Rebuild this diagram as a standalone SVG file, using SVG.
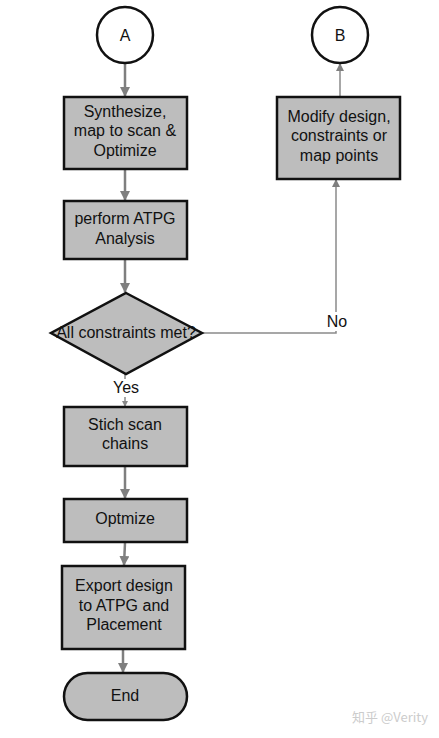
<svg xmlns="http://www.w3.org/2000/svg" width="439" height="738" viewBox="0 0 439 738">
<defs>
<style>
.box{fill:#bdbdbd;stroke:#111;stroke-width:2.5}
.circ{fill:#fff;stroke:#111;stroke-width:2.5}
.t{font-family:"Liberation Sans",Arial,sans-serif;font-size:16px;fill:#111;text-anchor:middle}
.c{stroke:#7f7f7f;stroke-width:2.5;fill:none}
.thin{stroke:#8a8a8a;stroke-width:1.5;fill:none}
</style>
<marker id="ah" markerWidth="8" markerHeight="8" refX="7" refY="4" orient="auto" markerUnits="userSpaceOnUse" viewBox="0 0 8 8">
<path d="M0,0 L8,4 L0,8 z" fill="#7f7f7f"/>
</marker>
<marker id="ahs" markerWidth="6" markerHeight="6" refX="5" refY="3" orient="auto" markerUnits="userSpaceOnUse" viewBox="0 0 6 6">
<path d="M0,0 L6,3 L0,6 z" fill="#8a8a8a"/>
</marker>
<marker id="ah2" markerWidth="10" markerHeight="10" refX="9" refY="5" orient="auto" markerUnits="userSpaceOnUse" viewBox="0 0 10 10">
<path d="M0,0 L10,5 L0,10 z" fill="#7f7f7f"/>
</marker>
</defs>
<rect width="439" height="738" fill="#fff"/>
<g id="connectors">
<line class="c" x1="125" y1="63" x2="125" y2="96" marker-end="url(#ah2)"/>
<line class="c" x1="125" y1="170" x2="125" y2="200" marker-end="url(#ah2)"/>
<line class="c" x1="125" y1="260" x2="125" y2="292" marker-end="url(#ah2)"/>
<polyline class="thin" points="202,333 336,333 336,180" marker-end="url(#ah)"/>
<line class="thin" x1="340" y1="97" x2="340" y2="64" marker-end="url(#ah)"/>
<line class="thin" x1="125" y1="374" x2="125" y2="406" marker-end="url(#ahs)"/>
<line class="c" x1="125" y1="467" x2="125" y2="498" marker-end="url(#ah2)"/>
<line class="c" x1="125" y1="543" x2="124" y2="565" marker-end="url(#ah2)"/>
<line class="c" x1="123" y1="650" x2="123" y2="672" marker-end="url(#ah2)"/>
<rect x="323" y="312" width="28" height="19" fill="#fff"/>
<text class="t" x="337" y="327">No</text>
<rect x="109" y="379" width="34" height="18" fill="#fff"/>
<text class="t" x="126" y="393">Yes</text>
</g>
<g id="nodeA">
<circle class="circ" cx="125" cy="35" r="28"/>
<text class="t" x="125" y="41">A</text>
</g>
<g id="nodeB">
<circle class="circ" cx="340" cy="35" r="28"/>
<text class="t" x="340" y="41">B</text>
</g>
<g id="synth">
<rect class="box" x="64" y="97" width="123" height="72"/>
<text class="t" x="125" y="117">Synthesize,</text>
<text class="t" x="125" y="136">map to scan &amp;</text>
<text class="t" x="125" y="156">Optimize</text>
</g>
<g id="atpg">
<rect class="box" x="64" y="201" width="123" height="58"/>
<text class="t" x="125" y="224">perform ATPG</text>
<text class="t" x="125" y="244">Analysis</text>
</g>
<g id="modify">
<rect class="box" x="277" y="97" width="123" height="82"/>
<text class="t" x="339" y="122">Modify design,</text>
<text class="t" x="339" y="141">constraints or</text>
<text class="t" x="339" y="161">map points</text>
</g>
<g id="decision">
<polygon class="box" points="126,293 202,333 126,374 51,333"/>
<text class="t" x="126" y="338">All constraints met?</text>
</g>
<g id="stitch">
<rect class="box" x="64" y="407" width="123" height="59"/>
<text class="t" x="125" y="430">Stich scan</text>
<text class="t" x="125" y="449">chains</text>
</g>
<g id="optmize">
<rect class="box" x="64" y="499" width="123" height="43"/>
<text class="t" x="125" y="524">Optmize</text>
</g>
<g id="export">
<rect class="box" x="62" y="566" width="123" height="83"/>
<text class="t" x="124" y="591">Export design</text>
<text class="t" x="124" y="611">to ATPG and</text>
<text class="t" x="124" y="630">Placement</text>
</g>
<g id="end">
<rect class="box" x="64" y="673" width="123" height="47" rx="23.5" ry="23.5"/>
<text class="t" x="125" y="701">End</text>
</g>
<text x="428" y="722" font-family="'Noto Sans CJK SC',sans-serif" font-size="13" fill="#cccccc" text-anchor="end">知乎 @Verity</text>
</svg>
